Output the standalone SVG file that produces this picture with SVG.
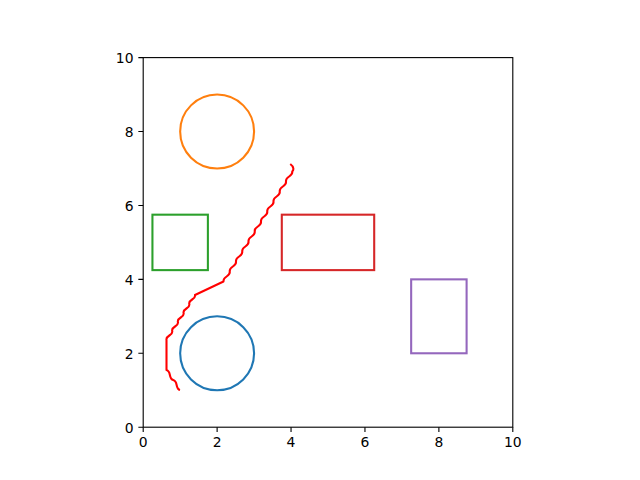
<svg xmlns="http://www.w3.org/2000/svg" width="640" height="480" viewBox="0 0 640 480">
<style>
.shape{fill:none;stroke-width:2.08}
.spine{fill:none;stroke:#000;stroke-width:1.11;stroke-linecap:square}
.tick{stroke:#000;stroke-width:1.11}
.lbl{font-family:"DejaVu Sans",sans-serif;font-size:13.9px;fill:#000}
.xl{text-anchor:middle}
.yl{text-anchor:end}
</style>
<rect width="640" height="480" fill="#fff"/>
<g id="axes">
<rect class="spine" x="143.2" y="57.6" width="369.6" height="369.6"/>
<g id="xticks">
<path class="tick" d="M143.2,427.2v4.86M217.12,427.2v4.86M291.04,427.2v4.86M364.96,427.2v4.86M438.88,427.2v4.86M512.8,427.2v4.86"/>
<text class="lbl xl" x="143.2" y="446.5">0</text>
<text class="lbl xl" x="217.12" y="446.5">2</text>
<text class="lbl xl" x="291.04" y="446.5">4</text>
<text class="lbl xl" x="364.96" y="446.5">6</text>
<text class="lbl xl" x="438.88" y="446.5">8</text>
<text class="lbl xl" x="512.8" y="446.5">10</text>
</g>
<g id="yticks">
<path class="tick" d="M143.2,427.2h-4.86M143.2,353.28h-4.86M143.2,279.36h-4.86M143.2,205.44h-4.86M143.2,131.52h-4.86M143.2,57.6h-4.86"/>
<text class="lbl yl" x="133.5" y="432.5">0</text>
<text class="lbl yl" x="133.5" y="358.6">2</text>
<text class="lbl yl" x="133.5" y="284.7">4</text>
<text class="lbl yl" x="133.5" y="210.8">6</text>
<text class="lbl yl" x="133.5" y="136.8">8</text>
<text class="lbl yl" x="133.5" y="62.9">10</text>
</g>
</g>
<g id="circle-blue"><circle class="shape" cx="217.12" cy="353.28" r="36.96" stroke="#1f77b4"/></g>
<g id="circle-orange"><circle class="shape" cx="217.12" cy="131.52" r="36.96" stroke="#ff7f0e"/></g>
<g id="rect-green"><rect class="shape" x="152.44" y="214.68" width="55.44" height="55.44" stroke="#2ca02c"/></g>
<g id="rect-red"><rect class="shape" x="281.8" y="214.68" width="92.4" height="55.44" stroke="#d62728"/></g>
<g id="rect-purple"><rect class="shape" x="411.16" y="279.36" width="55.44" height="73.92" stroke="#9467bd"/></g>
<g id="path-red">
<path class="shape" stroke="#ff0000" stroke-linejoin="round" d="M180,390 c -5.15,-1.37 -1.6,-8.63 -6.75,-10 -5.15,-1.37 -1.6,-8.63 -6.75,-10 L166.5,340 c -1.06,-4.87 6.76,-4.13 5.7,-9 -1.06,-4.87 6.76,-4.13 5.7,-9 -1.06,-4.87 6.76,-4.13 5.7,-9 -1.06,-4.87 6.76,-4.13 5.7,-9 -1.06,-4.87 6.76,-4.13 5.7,-9 L223.5,281.5 c -0.9,-5.19 7.15,-4.81 6.25,-10 -0.9,-5.19 7.15,-4.81 6.25,-10 -0.9,-5.19 7.15,-4.81 6.25,-10 -0.9,-5.19 7.15,-4.81 6.25,-10 -0.9,-5.19 7.15,-4.81 6.25,-10 -0.9,-5.19 7.15,-4.81 6.25,-10 -0.9,-5.19 7.15,-4.81 6.25,-10 -0.9,-5.19 7.15,-4.81 6.25,-10 -0.9,-5.19 7.15,-4.81 6.25,-10 -0.9,-5.19 7.15,-4.81 6.25,-10 -0.9,-5.19 7.15,-4.81 6.25,-10 c 1.5,-1.5 2,-4.5 -2,-7.5"/>
</g>
</svg>
